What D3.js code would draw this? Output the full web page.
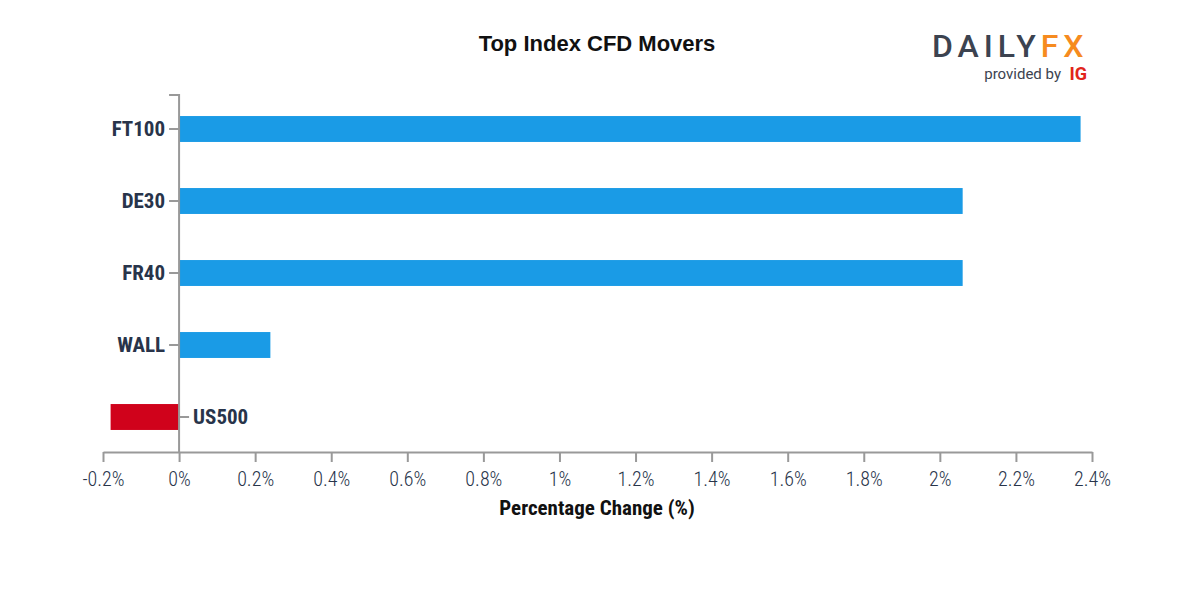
<!DOCTYPE html>
<html>
<head>
<meta charset="utf-8">
<script src="https://cdn.jsdelivr.net/npm/d3@7"></script>
<style>
  body { margin: 0; background: #fff; }
  .tick text { font-family: "Roboto Condensed", Roboto, sans-serif; }
</style>
</head>
<body>
<div id="chart"></div>
<script>
var svgWidth = 1200;
var svgHeight = 600;

var categories = ["FT100", "DE30", "FR40", "WALL", "US500"];
var changes = [2.37, 2.06, 2.06, 0.24, -0.18];
var xTicks = [-0.2, 0, 0.2, 0.4, 0.6, 0.8, 1, 1.2, 1.4, 1.6, 1.8, 2, 2.2, 2.4];

var data = categories.map(function(c, i) { return {name: c, value: changes[i]}; });

var svg = d3.select("#chart")
  .append("svg")
  .attr("width", svgWidth)
  .attr("height", svgHeight);

var x = d3.scaleLinear()
  .domain([-0.2, 2.4])
  .range([103, 1092]);

var y = d3.scaleBand()
  .domain(categories)
  .range([93, 453])
  .paddingInner(0.64)
  .paddingOuter(0.32);

// title
svg.append("text")
  .attr("x", 597)
  .attr("y", 51)
  .attr("text-anchor", "middle")
  .attr("font-family", "Liberation Sans, Arial, sans-serif")
  .attr("font-weight", "bold")
  .attr("font-size", "22px")
  .attr("fill", "#111")
  .text("Top Index CFD Movers");

// logo
var logo = svg.append("text")
  .attr("x", 932)
  .attr("y", 57)
  .attr("font-family", "Roboto, sans-serif")
  .attr("font-weight", "500")
  .attr("font-size", "32px")
  .attr("letter-spacing", "5px");
logo.append("tspan").attr("fill", "#3c4350").text("DAILY");
logo.append("tspan").attr("fill", "#f68b1f").text("FX");

svg.append("text")
  .attr("x", 1061)
  .attr("y", 79)
  .attr("text-anchor", "end")
  .attr("font-family", "Roboto, sans-serif")
  .attr("font-size", "15px")
  .attr("fill", "#3c4350")
  .text("provided by");

svg.append("text")
  .attr("x", 1087)
  .attr("y", 80)
  .attr("text-anchor", "end")
  .attr("font-family", "Roboto, sans-serif")
  .attr("font-weight", "bold")
  .attr("font-size", "18px")
  .attr("fill", "#e1251b")
  .text("IG");

// bars
svg.selectAll(".bar")
  .data(data)
  .enter()
  .append("rect")
  .attr("class", "bar")
  .attr("x", d => x(Math.min(0, d.value)))
  .attr("y", d => y(d.name))
  .attr("width", d => Math.abs(x(d.value) - x(0)))
  .attr("height", y.bandwidth())
  .attr("fill", d => d.value < 0 ? "#d0021b" : "#1a9be6");

// x axis
var xAxis = svg.append("g")
  .attr("transform", "translate(0, 452)")
  .call(d3.axisBottom(x).tickValues(xTicks).tickSize(10).tickSizeOuter(0)
    .tickFormat(d => String(+d.toFixed(1)) + "%"));
xAxis.select(".domain").attr("stroke", "#999").attr("stroke-width", 2);
xAxis.selectAll(".tick line").attr("stroke", "#999").attr("stroke-width", 2);
xAxis.selectAll(".tick text")
  .attr("dy", "1.05em")
  .attr("font-size", "20px")
  .attr("font-weight", "300")
  .attr("fill", "#28344a");

// y axis at zero
var yAxis = svg.append("g")
  .attr("transform", `translate(${x(0)}, 0)`)
  .call(d3.axisLeft(y).tickSize(10).tickSizeOuter(0));
yAxis.select(".domain")
  .attr("stroke", "#999")
  .attr("stroke-width", 2)
  .attr("d", "M-10,95H0V452");
yAxis.selectAll(".tick line").attr("stroke", "#999").attr("stroke-width", 2);
yAxis.selectAll(".tick text")
  .attr("font-size", "21px")
  .attr("font-weight", "bold")
  .attr("fill", "#28344a")
  .attr("x", -14);

// labels of negative bars go to the right side of the axis
yAxis.selectAll(".tick")
  .filter(d => changes[categories.indexOf(d)] < 0)
  .each(function() {
    d3.select(this).select("line").attr("x2", 10);
    d3.select(this).select("text").attr("x", 14).attr("text-anchor", "start");
  });

// axis title
svg.append("text")
  .attr("x", 597)
  .attr("y", 515)
  .attr("text-anchor", "middle")
  .attr("font-family", "Roboto Condensed, Roboto, sans-serif")
  .attr("font-weight", "bold")
  .attr("font-size", "21px")
  .attr("fill", "#111")
  .text("Percentage Change (%)");
</script>
</body>
</html>
